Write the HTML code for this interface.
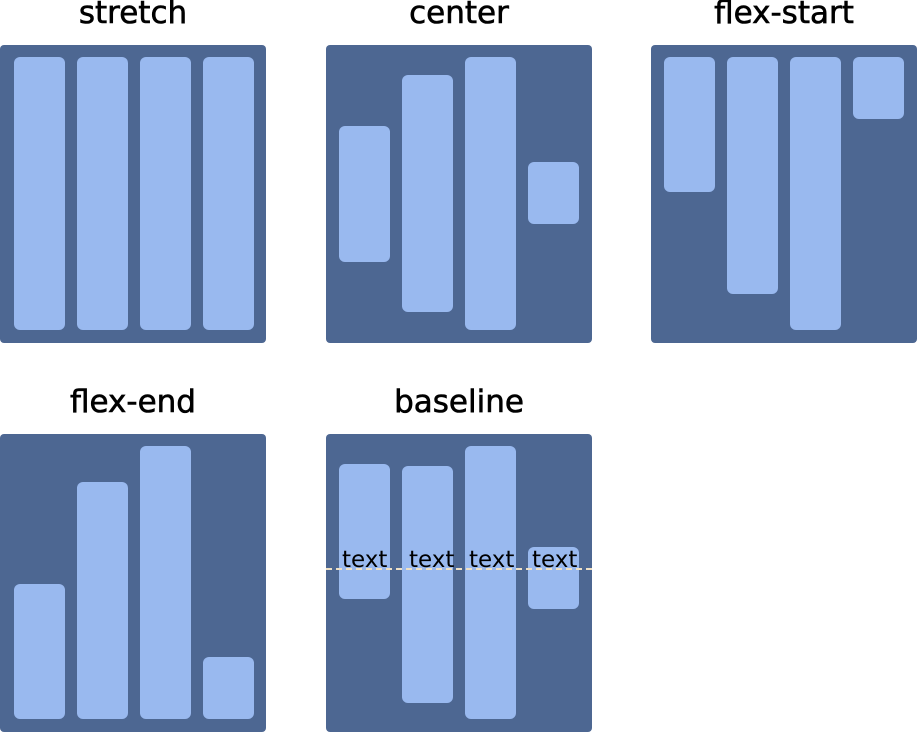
<!DOCTYPE html>
<html><head><style>
body{margin:0;width:918px;height:733px;background:#fff;position:relative;overflow:hidden;font-family:"DejaVu Sans","Liberation Sans",sans-serif}
.c{position:absolute;width:266px;height:298px;background:#4d6792;border-radius:4px}
.b{position:absolute;width:51px;background:#99b9ef;border-radius:6px}
.t{position:absolute;font-size:31px;text-align:center;width:266px;color:#000;line-height:1;-webkit-text-stroke:0.6px #000}
.x{position:absolute;font-size:23px;color:#000;line-height:1}
</style></head><body>
<div class="t" style="left:0;top:-2px">stretch</div>
<div class="t" style="left:326px;top:-2px">center</div>
<div class="t" style="left:651px;top:-2px">flex-start</div>
<div class="t" style="left:0;top:387px">flex-end</div>
<div class="t" style="left:326px;top:387px">baseline</div>

<div class="c" style="left:0;top:45px"></div>
<div class="b" style="left:14px;top:57px;height:273px"></div>
<div class="b" style="left:77px;top:57px;height:273px"></div>
<div class="b" style="left:140px;top:57px;height:273px"></div>
<div class="b" style="left:203px;top:57px;height:273px"></div>

<div class="c" style="left:326px;top:45px"></div>
<div class="b" style="left:339px;top:126px;height:136px"></div>
<div class="b" style="left:402px;top:75px;height:237px"></div>
<div class="b" style="left:465px;top:57px;height:273px"></div>
<div class="b" style="left:528px;top:162px;height:62px"></div>

<div class="c" style="left:651px;top:45px"></div>
<div class="b" style="left:664px;top:57px;height:135px"></div>
<div class="b" style="left:727px;top:57px;height:237px"></div>
<div class="b" style="left:790px;top:57px;height:273px"></div>
<div class="b" style="left:853px;top:57px;height:62px"></div>

<div class="c" style="left:0;top:434px"></div>
<div class="b" style="left:14px;top:584px;height:135px"></div>
<div class="b" style="left:77px;top:482px;height:237px"></div>
<div class="b" style="left:140px;top:446px;height:273px"></div>
<div class="b" style="left:203px;top:657px;height:62px"></div>

<div class="c" style="left:326px;top:434px"></div>
<div class="b" style="left:339px;top:464px;height:135px"></div>
<div class="b" style="left:402px;top:466px;height:237px"></div>
<div class="b" style="left:465px;top:446px;height:273px"></div>
<div class="b" style="left:528px;top:547px;height:62px"></div>
<div style="position:absolute;left:326px;top:568px;width:266px;border-top:2px dashed #efe0c4"></div>
<div class="x" style="left:342px;top:549px">text</div>
<div class="x" style="left:409px;top:549px">text</div>
<div class="x" style="left:469px;top:549px">text</div>
<div class="x" style="left:532px;top:549px">text</div>
</body></html>
